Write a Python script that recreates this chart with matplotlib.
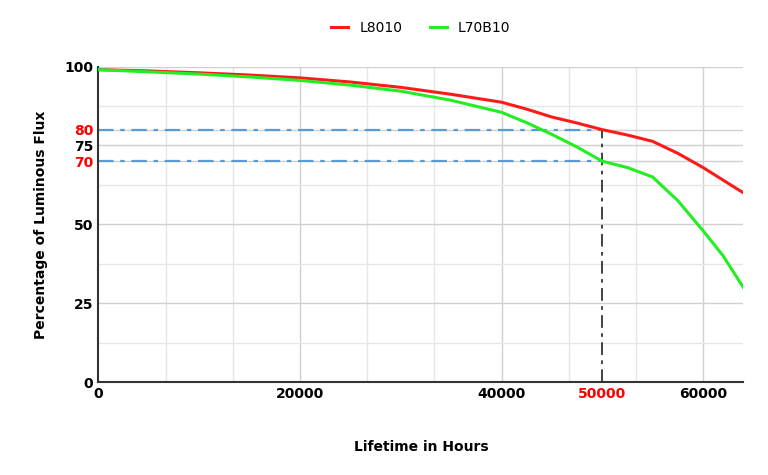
import matplotlib.pyplot as plt
import numpy as np
from matplotlib.ticker import MultipleLocator

hours = [0, 5000, 10000, 15000, 20000, 25000, 30000, 35000, 40000, 42500, 45000, 47500,
         50000, 52500, 55000, 57500, 60000, 62000, 64000]
l8010 = [99.0, 98.6, 98.0, 97.3, 96.4, 95.1, 93.4, 91.2, 88.7, 86.5, 84.0, 82.1,
         80.0, 78.3, 76.3, 72.5, 68.0, 64.0, 60.0]
l70b10 = [99.0, 98.3, 97.6, 96.7, 95.6, 94.1, 92.2, 89.3, 85.5, 82.2, 78.5, 74.5,
          70.0, 68.0, 65.0, 57.5, 48.0, 40.0, 30.0]

fig, ax = plt.subplots(figsize=(7.68, 4.75), dpi=100)
fig.subplots_adjust(left=0.128, right=0.968, top=0.86, bottom=0.195)

ax.plot(hours, l8010, color='#ff1a1a', lw=2.2, label='L8010', zorder=3)
ax.plot(hours, l70b10, color='#22ee22', lw=2.2, label='L70B10', zorder=3)

dash = (0, (7, 3, 2, 3))
ax.plot([0, 50000], [80, 80], color='#5b9bd5', lw=1.6, ls=dash, zorder=2)
ax.plot([0, 50000], [70, 70], color='#5b9bd5', lw=1.6, ls=dash, zorder=2)
ax.plot([50000, 50000], [0, 80], color='#333333', lw=1.3, ls=dash, zorder=2)

ax.set_xlim(0, 64000)
ax.set_ylim(0, 100)
ax.set_xticks([0, 20000, 40000, 50000, 60000])
ax.set_yticks([0, 25, 50, 70, 75, 80, 100])
ax.xaxis.set_minor_locator(MultipleLocator(20000 / 3))
ax.yaxis.set_minor_locator(MultipleLocator(12.5))
ax.grid(which='minor', color='#e6e6e6', lw=1)
ax.grid(which='major', axis='y', color='#d0d0d0', lw=1)
for xv in [20000, 40000, 60000]:
    ax.axvline(xv, color='#d0d0d0', lw=1, zorder=0)
ax.tick_params(length=0, which='both', labelsize=10)
for lab in ax.get_xticklabels() + ax.get_yticklabels():
    lab.set_fontweight('bold')
    if lab.get_text() in ('50000', '70', '80'):
        lab.set_color('red')
ax.set_axisbelow(True)
for s in ['top', 'right']:
    ax.spines[s].set_visible(False)
ax.spines['left'].set_color('#333333')
ax.spines['bottom'].set_color('#333333')
ax.spines['left'].set_linewidth(1.5)
ax.spines['bottom'].set_linewidth(1.5)

ax.set_xlabel('Lifetime in Hours', fontweight='bold', fontsize=10, labelpad=28)
ax.set_ylabel('Percentage of Luminous Flux', fontweight='bold', fontsize=10, labelpad=12)
ax.legend(loc='lower center', bbox_to_anchor=(0.5, 1.06), ncol=2, frameon=False,
          fontsize=10, handlelength=1.2, columnspacing=2)

fig.savefig('out.png', dpi=100)
